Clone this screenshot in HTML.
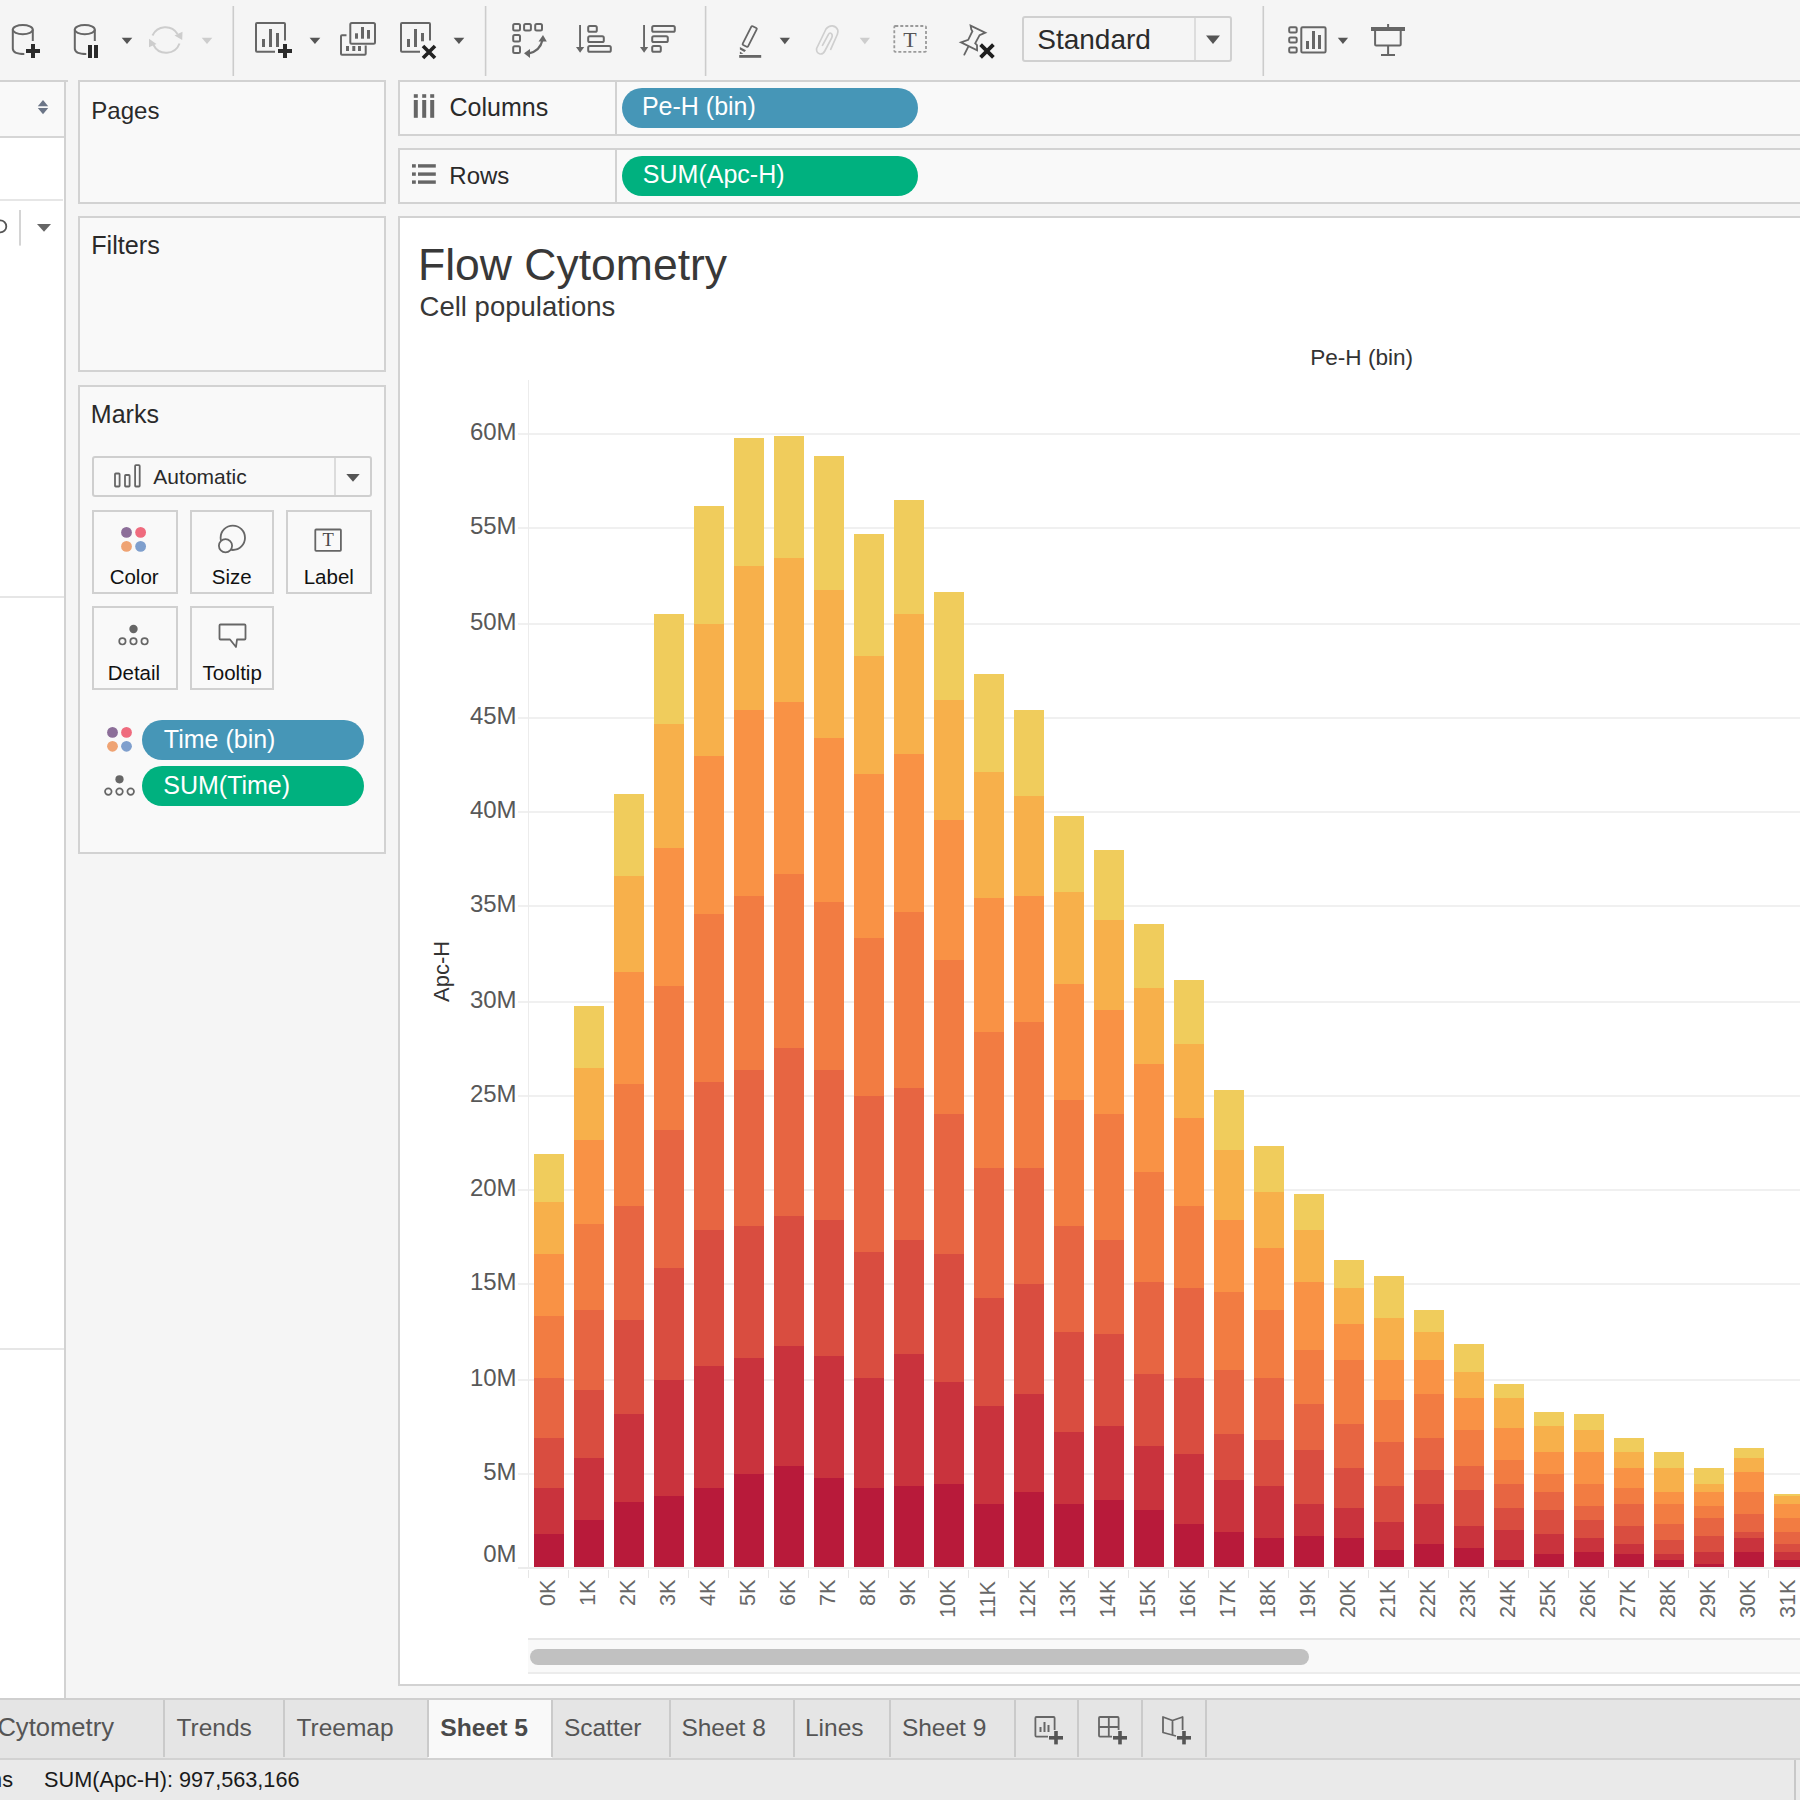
<!DOCTYPE html>
<html><head><meta charset="utf-8"><title>Flow Cytometry</title><style>
*{margin:0;padding:0;box-sizing:border-box}
html,body{width:1800px;height:1800px;overflow:hidden;background:#f5f5f5;font-family:"Liberation Sans", sans-serif}
.t{position:absolute;white-space:nowrap;line-height:1;font-family:"Liberation Sans", sans-serif}
.b{position:absolute}
svg{position:absolute;overflow:visible}
</style></head>
<body>
<svg style="left:0;top:0" width="1800" height="80"><ellipse cx="22.8" cy="29.6" rx="10" ry="4.6" fill="none" stroke="#666666" stroke-width="2"/><path d="M12.8 29.6 V48.5 Q12.8 54 24.3 54" fill="none" stroke="#666666" stroke-width="2"/><path d="M32.8 29.6 V41" fill="none" stroke="#666666" stroke-width="2"/><rect x="26" y="49" width="14" height="4" fill="#2b2b2b"/><rect x="31" y="44" width="4" height="14" fill="#2b2b2b"/><ellipse cx="84.8" cy="29.6" rx="10" ry="4.6" fill="none" stroke="#666666" stroke-width="2"/><path d="M74.8 29.6 V48.5 Q74.8 54 86.3 54" fill="none" stroke="#666666" stroke-width="2"/><path d="M94.8 29.6 V41" fill="none" stroke="#666666" stroke-width="2"/><rect x="88" y="45" width="4" height="13" fill="#2b2b2b"/><rect x="94" y="45" width="4" height="13" fill="#2b2b2b"/><polygon points="121.7,37.7 132.3,37.7 127.0,44" fill="#555"/><path d="M152.5 35.5 A14.2 14.2 0 0 1 177.5 34" fill="none" stroke="#cdcdcd" stroke-width="2"/><polygon points="174.5,35.5 182.5,31.8 182.2,40" fill="#cdcdcd"/><path d="M179.5 43.5 A14.2 14.2 0 0 1 153.5 45" fill="none" stroke="#cdcdcd" stroke-width="2"/><polygon points="149,38.8 149,47.3 156.5,44" fill="#cdcdcd"/><polygon points="201.7,37.7 212.3,37.7 207.0,44" fill="#cdcdcd"/><rect x="232.5" y="6" width="1.6" height="70" fill="#cccccc"/><rect x="484.8" y="6" width="1.6" height="70" fill="#cccccc"/><rect x="704.8" y="6" width="1.6" height="70" fill="#cccccc"/><rect x="1262.5" y="6" width="1.6" height="70" fill="#cccccc"/><path d="M275 51.7 H257 Q256 51.7 256 50.7 V24 Q256 23 257 23 H284 Q285 23 285 24 V40.5" fill="none" stroke="#666666" stroke-width="2"/><rect x="262" y="39" width="3" height="8" fill="#666666"/><rect x="269" y="29" width="3" height="18" fill="#666666"/><rect x="276" y="33" width="3" height="14" fill="#666666"/><rect x="278" y="49" width="14" height="4" fill="#2b2b2b"/><rect x="283" y="44" width="4" height="14" fill="#2b2b2b"/><polygon points="309.6,37.7 320.3,37.7 314.95000000000005,44" fill="#555"/><rect x="350.3" y="23" width="24.7" height="20.7" rx="1.5" fill="none" stroke="#666666" stroke-width="2"/><rect x="355" y="33.3" width="3" height="5.4" fill="#666666"/><rect x="361" y="27" width="3" height="11.7" fill="#666666"/><rect x="367" y="30" width="3" height="8.7" fill="#666666"/><path d="M346.5 35.3 H342 Q341 35.3 341 36.3 V53.7 Q341 54.7 342 54.7 H364.7 Q365.7 54.7 365.7 53.7 V45.5" fill="none" stroke="#666666" stroke-width="2"/><rect x="346" y="46" width="3" height="5" fill="#666666"/><rect x="352.3" y="46" width="3" height="5" fill="#666666"/><rect x="358" y="46" width="3" height="5" fill="#666666"/><path d="M420 51.7 H402 Q401 51.7 401 50.7 V24 Q401 23 402 23 H429 Q430 23 430 24 V40.5" fill="none" stroke="#666666" stroke-width="2"/><rect x="407" y="39" width="3" height="8" fill="#666666"/><rect x="414" y="29" width="3" height="18" fill="#666666"/><rect x="421" y="33" width="3" height="8.3" fill="#666666"/><path d="M423 46 L435 58 M435 46 L423 58" stroke="#222" stroke-width="3.6"/><polygon points="453.6,37.7 464.3,37.7 458.95000000000005,44" fill="#555"/><rect x="513.1999999999999" y="23.900000000000002" width="6.8" height="6.6" rx="1.5" fill="none" stroke="#666666" stroke-width="2"/><rect x="524.0999999999999" y="23.900000000000002" width="6.8" height="6.6" rx="1.5" fill="none" stroke="#666666" stroke-width="2"/><rect x="535.1999999999999" y="23.900000000000002" width="6.8" height="6.6" rx="1.5" fill="none" stroke="#666666" stroke-width="2"/><rect x="513.1999999999999" y="35.0" width="6.8" height="6.6" rx="1.5" fill="none" stroke="#666666" stroke-width="2"/><rect x="513.1999999999999" y="46.300000000000004" width="6.8" height="6.6" rx="1.5" fill="none" stroke="#666666" stroke-width="2"/><path d="M529 53.3 Q540 51 542.5 40" fill="none" stroke="#666666" stroke-width="2.2"/><polygon points="538.5,41.5 546.8,41.5 543,35" fill="#666666"/><polygon points="530,49 530,58 524,53.2" fill="#666666"/><rect x="579.1" y="25" width="1.9" height="24" fill="#666666"/><polygon points="576,47 584.2,47 580.1,52.8" fill="#666666"/><rect x="588.2" y="26" width="8.6" height="5.8" rx="1.6" fill="none" stroke="#666666" stroke-width="2"/><rect x="588.2" y="36.2" width="15.6" height="5.8" rx="1.6" fill="none" stroke="#666666" stroke-width="2"/><rect x="588.2" y="46" width="22.6" height="5.8" rx="1.6" fill="none" stroke="#666666" stroke-width="2"/><rect x="643.1" y="25" width="1.9" height="24" fill="#666666"/><polygon points="640,47 648.2,47 644.1,52.8" fill="#666666"/><rect x="652.2" y="26" width="22.6" height="5.8" rx="1.6" fill="none" stroke="#666666" stroke-width="2"/><rect x="652.2" y="36.2" width="15.6" height="5.8" rx="1.6" fill="none" stroke="#666666" stroke-width="2"/><rect x="652.2" y="46" width="8.6" height="5.8" rx="1.6" fill="none" stroke="#666666" stroke-width="2"/><g transform="translate(749.7 36.5) rotate(27)"><rect x="-3" y="-10.5" width="6" height="21" rx="1" fill="none" stroke="#666666" stroke-width="1.8"/></g><polygon points="739.9,47 746,50.3 744.4,52 739.9,49.6" fill="#666666"/><polygon points="739.9,51.4 743.3,53.8 739.9,53.9" fill="#666666"/><rect x="739.2" y="55" width="22" height="2.8" fill="#666666"/><polygon points="779.7,37.8 790,37.8 784.85,44.2" fill="#555"/><path d="M822.5 45.3 L828.3 34.6 Q830.2 31.5 832 34.5 Q832.6 36 831.7 37.8 L824.8 51 Q822.8 54.8 819.5 53.8 Q816 52.3 816.6 48.5 L826 29 Q828.5 25.5 832.5 25.8 Q836.5 26.5 837.8 30 Q838.3 32.5 837.3 34.5 L830.7 49.3" fill="none" stroke="#cfcfcf" stroke-width="1.7" stroke-linecap="round" stroke-linejoin="round"/><polygon points="859.7,37.8 870,37.8 864.85,44.2" fill="#cdcdcd"/><rect x="894.3" y="26" width="31.7" height="25.8" rx="1" fill="none" stroke="#9a9a9a" stroke-width="1.8" stroke-dasharray="3 2"/><text x="910" y="47.2" font-family="Liberation Serif" font-size="22" fill="#555" text-anchor="middle">T</text><path d="M970.6 25.6 L985.3 32.6 L979.6 35.1 L975.2 43.4 L977 45.2 L977.1 50.3 L961 42.3 L968.2 39.8 L972.4 31.2 L971.3 29.4 Z" fill="none" stroke="#666666" stroke-width="1.8" stroke-linejoin="miter"/><path d="M968.3 46.6 L964.3 54.6" stroke="#666666" stroke-width="1.8" stroke-linecap="round"/><path d="M980.6 44.6 L993.4 57.4 M993.4 44.6 L980.6 57.4" stroke="#1e1e1e" stroke-width="3.8"/><rect x="1289.2" y="27.25" width="7.5" height="5.2" rx="1.3" fill="none" stroke="#666666" stroke-width="2"/><rect x="1289.2" y="37.4" width="7.5" height="5.2" rx="1.3" fill="none" stroke="#666666" stroke-width="2"/><rect x="1289.2" y="47.4" width="7.5" height="5.2" rx="1.3" fill="none" stroke="#666666" stroke-width="2"/><rect x="1301.3" y="27.3" width="24.3" height="25.3" rx="1.3" fill="none" stroke="#666666" stroke-width="2"/><rect x="1306" y="41" width="3" height="8" fill="#666666"/><rect x="1312" y="31" width="3" height="18" fill="#666666"/><rect x="1318" y="35" width="3" height="14" fill="#666666"/><polygon points="1337.8,37.8 1348.1,37.8 1342.9499999999998,43.9" fill="#555"/><rect x="1371" y="27" width="34" height="4" fill="#666666"/><rect x="1387.1" y="24" width="2" height="4" fill="#666666"/><path d="M1375.1 30 V44.5 Q1375.1 45.5 1376.1 45.5 H1399.7 Q1400.7 45.5 1400.7 44.5 V30" fill="none" stroke="#666666" stroke-width="2"/><rect x="1387.1" y="46" width="2" height="8.5" fill="#666666"/><rect x="1381" y="54" width="14" height="2" fill="#666666"/></svg>
<div class="b" style="left:1022px;top:16px;width:210px;height:46px;border:2px solid #d0d0d0;border-radius:3px;background:#f5f5f5"></div>
<div class="b" style="left:1194px;top:18px;width:2px;height:42px;background:#dddddd"></div>
<svg style="left:0;top:0" width="1" height="1"><polygon points="1206,35.5 1220,35.5 1213.0,43.9" fill="#555"/></svg>
<div class="t" style="left:1037.23px;top:25.79px;font-size:28px;color:#2b2b2b;font-weight:normal;">Standard</div>
<div class="b" style="left:0px;top:80px;width:68px;height:2px;background:#d2d2d2"></div>
<div class="b" style="left:0px;top:82px;width:64px;height:55px;background:#f9f9f9"></div>
<div class="b" style="left:0px;top:136px;width:64px;height:2px;background:#d6d6d6"></div>
<div class="b" style="left:0px;top:138px;width:64px;height:1560px;background:#ffffff"></div>
<div class="b" style="left:64px;top:80px;width:2px;height:1618px;background:#d2d2d2"></div>
<div class="b" style="left:0px;top:199px;width:63px;height:2px;background:#e6e6e6"></div>
<div class="b" style="left:0px;top:596px;width:64px;height:2px;background:#e6e6e6"></div>
<div class="b" style="left:0px;top:1348px;width:64px;height:2px;background:#e6e6e6"></div>
<svg style="left:0;top:0" width="1" height="1"><polygon points="37.8,106.2 48.2,106.2 43,100" fill="#6b7587"/><polygon points="37.8,108 48.2,108 43,114.2" fill="#6b7587"/><circle cx="0.3" cy="226.4" r="6" fill="none" stroke="#555" stroke-width="1.8"/><rect x="19" y="210" width="2" height="35.6" fill="#d4d4d4"/><polygon points="37,224 51,224 44,231.8" fill="#666"/></svg>
<div class="b" style="left:78px;top:80px;width:308px;height:124px;border:2px solid #d2d2d2;background:#f9f9f9"></div>
<div class="t" style="left:91.33px;top:98.58px;font-size:24px;color:#2a2a2a;font-weight:normal;">Pages</div>
<div class="b" style="left:78px;top:216px;width:308px;height:156px;border:2px solid #d2d2d2;background:#f9f9f9"></div>
<div class="t" style="left:91.23px;top:233.06px;font-size:25.2px;color:#2a2a2a;font-weight:normal;">Filters</div>
<div class="b" style="left:78px;top:385px;width:308px;height:469px;border:2px solid #d2d2d2;background:#f9f9f9"></div>
<div class="t" style="left:90.85px;top:402.03px;font-size:25px;color:#2a2a2a;font-weight:normal;">Marks</div>
<div class="b" style="left:92px;top:456px;width:280px;height:41px;border:2px solid #cfcfcf;border-radius:3px;background:#f9f9f9"></div>
<div class="b" style="left:334px;top:458px;width:2px;height:37px;background:#dcdcdc"></div>
<svg style="left:0;top:0" width="1" height="1"><polygon points="346.3,474 359.7,474 353.0,481.8" fill="#555"/><rect x="115" y="473.5" width="4.6" height="13" rx="0.8" fill="none" stroke="#666666" stroke-width="1.8"/><rect x="125" y="475" width="4.6" height="11.5" rx="0.8" fill="none" stroke="#666666" stroke-width="1.8"/><rect x="135.1" y="465.2" width="4.6" height="21.3" rx="0.8" fill="none" stroke="#666666" stroke-width="1.8"/></svg>
<div class="t" style="left:153.36px;top:465.92px;font-size:21px;color:#2a2a2a;font-weight:normal;">Automatic</div>
<div class="b" style="left:92px;top:510px;width:86px;height:84px;border:2px solid #d0d0d0;background:#f9f9f9"></div><div class="t" style="left:109.66px;top:567.24px;font-size:20.5px;color:#111;font-weight:normal;">Color</div>
<div class="b" style="left:190px;top:510px;width:84px;height:84px;border:2px solid #d0d0d0;background:#f9f9f9"></div><div class="t" style="left:211.77px;top:567.44px;font-size:20.5px;color:#111;font-weight:normal;">Size</div>
<div class="b" style="left:286px;top:510px;width:86px;height:84px;border:2px solid #d0d0d0;background:#f9f9f9"></div><div class="t" style="left:303.72px;top:567.44px;font-size:20.5px;color:#111;font-weight:normal;">Label</div>
<div class="b" style="left:92px;top:606px;width:86px;height:84px;border:2px solid #d0d0d0;background:#f9f9f9"></div><div class="t" style="left:107.72px;top:663.24px;font-size:20.5px;color:#111;font-weight:normal;">Detail</div>
<div class="b" style="left:190px;top:606px;width:84px;height:84px;border:2px solid #d0d0d0;background:#f9f9f9"></div><div class="t" style="left:202.54px;top:662.84px;font-size:20.5px;color:#111;font-weight:normal;">Tooltip</div>
<svg style="left:0;top:0" width="1" height="1"><circle cx="126.5" cy="532.4" r="5.4" fill="#8c6e99"/><circle cx="140.6" cy="532.4" r="5.4" fill="#ef6b7e"/><circle cx="126.5" cy="546.4" r="5.4" fill="#efa373"/><circle cx="140.6" cy="546.4" r="5.4" fill="#7f9fcd"/><circle cx="232.8" cy="537.8" r="12.2" fill="none" stroke="#666666" stroke-width="1.8"/><circle cx="225.5" cy="545.7" r="6.6" fill="#f9f9f9" stroke="#666666" stroke-width="1.8"/><rect x="315.3" y="529.5" width="25.6" height="21.3" rx="0.8" fill="none" stroke="#666666" stroke-width="1.8"/><text x="328.1" y="546.2" font-family="Liberation Serif" font-size="18.5" fill="#4a4a4a" text-anchor="middle">T</text><circle cx="133.5" cy="629" r="4.2" fill="#666666"/><circle cx="122.4" cy="641.3" r="3.2" fill="none" stroke="#666666" stroke-width="1.7"/><circle cx="133.5" cy="641.3" r="3.2" fill="none" stroke="#666666" stroke-width="1.7"/><circle cx="144.6" cy="641.3" r="3.2" fill="none" stroke="#666666" stroke-width="1.7"/><path d="M220.5 624.5 H244.5 Q245.5 624.5 245.5 625.5 V638.5 Q245.5 639.5 244.5 639.5 H237 L236 647 L230 639.5 H220.5 Q219.5 639.5 219.5 638.5 V625.5 Q219.5 624.5 220.5 624.5 Z" fill="none" stroke="#666666" stroke-width="1.8" stroke-linejoin="round"/></svg>
<div class="b" style="left:142px;top:720px;width:222px;height:40px;background:#4696b7;border-radius:20px"></div>
<div class="t" style="left:163.84px;top:726.63px;font-size:25px;color:#ffffff;font-weight:normal;">Time (bin)</div>
<div class="b" style="left:142px;top:766px;width:222px;height:40px;background:#00b17f;border-radius:20px"></div>
<div class="t" style="left:163.26px;top:772.83px;font-size:25px;color:#ffffff;font-weight:normal;">SUM(Time)</div>
<svg style="left:0;top:0" width="1" height="1"><circle cx="112.5" cy="732.4" r="5.4" fill="#8c6e99"/><circle cx="126.5" cy="732.4" r="5.4" fill="#ef6b7e"/><circle cx="112.5" cy="746.3" r="5.4" fill="#efa373"/><circle cx="126.5" cy="746.3" r="5.4" fill="#7f9fcd"/><circle cx="119.5" cy="779.3" r="4.1" fill="#666666"/><circle cx="108.3" cy="791.6" r="3.3" fill="none" stroke="#666666" stroke-width="1.7"/><circle cx="119.5" cy="791.6" r="3.3" fill="none" stroke="#666666" stroke-width="1.7"/><circle cx="130.7" cy="791.6" r="3.3" fill="none" stroke="#666666" stroke-width="1.7"/></svg>
<div class="b" style="left:398px;top:80px;width:1410px;height:56px;border:2px solid #d2d2d2;background:#f9f9f9"></div>
<div class="b" style="left:615px;top:82px;width:2px;height:52px;background:#d2d2d2"></div>
<div class="b" style="left:398px;top:148px;width:1410px;height:56px;border:2px solid #d2d2d2;background:#f9f9f9"></div>
<div class="b" style="left:615px;top:150px;width:2px;height:52px;background:#d2d2d2"></div>
<svg style="left:0;top:0" width="1" height="1"><rect x="413.8" y="94.2" width="4" height="3.6" fill="#666666"/><rect x="413.8" y="100" width="4" height="17.8" fill="#666666"/><rect x="422.2" y="94.2" width="4" height="3.6" fill="#666666"/><rect x="422.2" y="100" width="4" height="17.8" fill="#666666"/><rect x="430.2" y="94.2" width="4" height="3.6" fill="#666666"/><rect x="430.2" y="100" width="4" height="17.8" fill="#666666"/><rect x="412" y="164.2" width="3.8" height="3.4" fill="#666666"/><rect x="418" y="164.2" width="17.8" height="3.4" fill="#666666"/><rect x="412" y="172.4" width="3.8" height="3.4" fill="#666666"/><rect x="418" y="172.4" width="17.8" height="3.4" fill="#666666"/><rect x="412" y="180.4" width="3.8" height="3.4" fill="#666666"/><rect x="418" y="180.4" width="17.8" height="3.4" fill="#666666"/></svg>
<div class="t" style="left:449.53px;top:94.63px;font-size:25px;color:#2a2a2a;font-weight:normal;">Columns</div>
<div class="t" style="left:449.33px;top:163.88px;font-size:24px;color:#2a2a2a;font-weight:normal;">Rows</div>
<div class="b" style="left:622px;top:88px;width:296px;height:40px;background:#4696b7;border-radius:20px"></div>
<div class="t" style="left:641.95px;top:94.43px;font-size:25px;color:#ffffff;font-weight:normal;">Pe-H (bin)</div>
<div class="b" style="left:622px;top:156px;width:296px;height:40px;background:#00b17f;border-radius:20px"></div>
<div class="t" style="left:642.86px;top:162.43px;font-size:25px;color:#ffffff;font-weight:normal;">SUM(Apc-H)</div>
<div class="b" style="left:398px;top:216px;width:1410px;height:1470px;border:2px solid #d2d2d2;background:#ffffff"></div>
<div class="t" style="left:418.05px;top:243.02px;font-size:44.5px;color:#383838;font-weight:normal;">Flow Cytometry</div>
<div class="t" style="left:419.60px;top:292.72px;font-size:27.5px;color:#383838;font-weight:normal;">Cell populations</div>
<div class="t" style="left:1310.15px;top:346.86px;font-size:22.6px;color:#333333;font-weight:normal;">Pe-H (bin)</div>
<div class="t" style="left:431.07px;top:1002.42px;font-size:22px;color:#333333;transform-origin:0 0;transform:rotate(-90deg)">Apc-H</div>
<div class="b" style="left:518px;top:433px;width:1290px;height:2px;background:#f0f0f0"></div>
<div class="t" style="left:469.91px;top:419.88px;font-size:24px;color:#585858">60M</div>
<div class="b" style="left:518px;top:527px;width:1290px;height:2px;background:#f0f0f0"></div>
<div class="t" style="left:469.91px;top:513.88px;font-size:24px;color:#585858">55M</div>
<div class="b" style="left:518px;top:623px;width:1290px;height:2px;background:#f0f0f0"></div>
<div class="t" style="left:469.91px;top:609.88px;font-size:24px;color:#585858">50M</div>
<div class="b" style="left:518px;top:717px;width:1290px;height:2px;background:#f0f0f0"></div>
<div class="t" style="left:469.91px;top:703.88px;font-size:24px;color:#585858">45M</div>
<div class="b" style="left:518px;top:811px;width:1290px;height:2px;background:#f0f0f0"></div>
<div class="t" style="left:469.91px;top:797.88px;font-size:24px;color:#585858">40M</div>
<div class="b" style="left:518px;top:905px;width:1290px;height:2px;background:#f0f0f0"></div>
<div class="t" style="left:469.91px;top:891.88px;font-size:24px;color:#585858">35M</div>
<div class="b" style="left:518px;top:1001px;width:1290px;height:2px;background:#f0f0f0"></div>
<div class="t" style="left:469.91px;top:987.88px;font-size:24px;color:#585858">30M</div>
<div class="b" style="left:518px;top:1095px;width:1290px;height:2px;background:#f0f0f0"></div>
<div class="t" style="left:469.91px;top:1081.88px;font-size:24px;color:#585858">25M</div>
<div class="b" style="left:518px;top:1189px;width:1290px;height:2px;background:#f0f0f0"></div>
<div class="t" style="left:469.91px;top:1175.88px;font-size:24px;color:#585858">20M</div>
<div class="b" style="left:518px;top:1283px;width:1290px;height:2px;background:#f0f0f0"></div>
<div class="t" style="left:469.91px;top:1269.88px;font-size:24px;color:#585858">15M</div>
<div class="b" style="left:518px;top:1379px;width:1290px;height:2px;background:#f0f0f0"></div>
<div class="t" style="left:469.91px;top:1365.88px;font-size:24px;color:#585858">10M</div>
<div class="b" style="left:518px;top:1473px;width:1290px;height:2px;background:#f0f0f0"></div>
<div class="t" style="left:483.26px;top:1459.88px;font-size:24px;color:#585858">5M</div>
<div class="b" style="left:518px;top:1567px;width:1290px;height:2px;background:#ececec"></div>
<div class="t" style="left:483.26px;top:1542.08px;font-size:24px;color:#585858">0M</div>
<div class="b" style="left:528px;top:380px;width:1.2px;height:1188px;background:#ececec"></div>
<svg style="left:0;top:0" width="1800" height="1800" shape-rendering="crispEdges"><rect x="534" y="1154" width="30" height="48" fill="#f0cc5c"/><rect x="534" y="1202" width="30" height="52" fill="#f7b04b"/><rect x="534" y="1254" width="30" height="62" fill="#f99245"/><rect x="534" y="1316" width="30" height="62" fill="#f27c42"/><rect x="534" y="1378" width="30" height="60" fill="#e76542"/><rect x="534" y="1438" width="30" height="50" fill="#d94d40"/><rect x="534" y="1488" width="30" height="46" fill="#c9333d"/><rect x="534" y="1534" width="30" height="33" fill="#b81a3a"/><rect x="574" y="1006" width="30" height="62" fill="#f0cc5c"/><rect x="574" y="1068" width="30" height="72" fill="#f7b04b"/><rect x="574" y="1140" width="30" height="84" fill="#f99245"/><rect x="574" y="1224" width="30" height="86" fill="#f27c42"/><rect x="574" y="1310" width="30" height="80" fill="#e76542"/><rect x="574" y="1390" width="30" height="68" fill="#d94d40"/><rect x="574" y="1458" width="30" height="62" fill="#c9333d"/><rect x="574" y="1520" width="30" height="47" fill="#b81a3a"/><rect x="614" y="794" width="30" height="82" fill="#f0cc5c"/><rect x="614" y="876" width="30" height="96" fill="#f7b04b"/><rect x="614" y="972" width="30" height="112" fill="#f99245"/><rect x="614" y="1084" width="30" height="122" fill="#f27c42"/><rect x="614" y="1206" width="30" height="114" fill="#e76542"/><rect x="614" y="1320" width="30" height="94" fill="#d94d40"/><rect x="614" y="1414" width="30" height="88" fill="#c9333d"/><rect x="614" y="1502" width="30" height="65" fill="#b81a3a"/><rect x="654" y="614" width="30" height="110" fill="#f0cc5c"/><rect x="654" y="724" width="30" height="124" fill="#f7b04b"/><rect x="654" y="848" width="30" height="138" fill="#f99245"/><rect x="654" y="986" width="30" height="144" fill="#f27c42"/><rect x="654" y="1130" width="30" height="138" fill="#e76542"/><rect x="654" y="1268" width="30" height="112" fill="#d94d40"/><rect x="654" y="1380" width="30" height="116" fill="#c9333d"/><rect x="654" y="1496" width="30" height="71" fill="#b81a3a"/><rect x="694" y="506" width="30" height="118" fill="#f0cc5c"/><rect x="694" y="624" width="30" height="132" fill="#f7b04b"/><rect x="694" y="756" width="30" height="158" fill="#f99245"/><rect x="694" y="914" width="30" height="168" fill="#f27c42"/><rect x="694" y="1082" width="30" height="148" fill="#e76542"/><rect x="694" y="1230" width="30" height="136" fill="#d94d40"/><rect x="694" y="1366" width="30" height="122" fill="#c9333d"/><rect x="694" y="1488" width="30" height="79" fill="#b81a3a"/><rect x="734" y="438" width="30" height="128" fill="#f0cc5c"/><rect x="734" y="566" width="30" height="144" fill="#f7b04b"/><rect x="734" y="710" width="30" height="186" fill="#f99245"/><rect x="734" y="896" width="30" height="174" fill="#f27c42"/><rect x="734" y="1070" width="30" height="156" fill="#e76542"/><rect x="734" y="1226" width="30" height="132" fill="#d94d40"/><rect x="734" y="1358" width="30" height="116" fill="#c9333d"/><rect x="734" y="1474" width="30" height="93" fill="#b81a3a"/><rect x="774" y="436" width="30" height="122" fill="#f0cc5c"/><rect x="774" y="558" width="30" height="144" fill="#f7b04b"/><rect x="774" y="702" width="30" height="172" fill="#f99245"/><rect x="774" y="874" width="30" height="174" fill="#f27c42"/><rect x="774" y="1048" width="30" height="168" fill="#e76542"/><rect x="774" y="1216" width="30" height="130" fill="#d94d40"/><rect x="774" y="1346" width="30" height="120" fill="#c9333d"/><rect x="774" y="1466" width="30" height="101" fill="#b81a3a"/><rect x="814" y="456" width="30" height="134" fill="#f0cc5c"/><rect x="814" y="590" width="30" height="148" fill="#f7b04b"/><rect x="814" y="738" width="30" height="164" fill="#f99245"/><rect x="814" y="902" width="30" height="168" fill="#f27c42"/><rect x="814" y="1070" width="30" height="150" fill="#e76542"/><rect x="814" y="1220" width="30" height="136" fill="#d94d40"/><rect x="814" y="1356" width="30" height="122" fill="#c9333d"/><rect x="814" y="1478" width="30" height="89" fill="#b81a3a"/><rect x="854" y="534" width="30" height="122" fill="#f0cc5c"/><rect x="854" y="656" width="30" height="118" fill="#f7b04b"/><rect x="854" y="774" width="30" height="164" fill="#f99245"/><rect x="854" y="938" width="30" height="158" fill="#f27c42"/><rect x="854" y="1096" width="30" height="156" fill="#e76542"/><rect x="854" y="1252" width="30" height="126" fill="#d94d40"/><rect x="854" y="1378" width="30" height="110" fill="#c9333d"/><rect x="854" y="1488" width="30" height="79" fill="#b81a3a"/><rect x="894" y="500" width="30" height="114" fill="#f0cc5c"/><rect x="894" y="614" width="30" height="140" fill="#f7b04b"/><rect x="894" y="754" width="30" height="158" fill="#f99245"/><rect x="894" y="912" width="30" height="176" fill="#f27c42"/><rect x="894" y="1088" width="30" height="152" fill="#e76542"/><rect x="894" y="1240" width="30" height="114" fill="#d94d40"/><rect x="894" y="1354" width="30" height="132" fill="#c9333d"/><rect x="894" y="1486" width="30" height="81" fill="#b81a3a"/><rect x="934" y="592" width="30" height="108" fill="#f0cc5c"/><rect x="934" y="700" width="30" height="120" fill="#f7b04b"/><rect x="934" y="820" width="30" height="140" fill="#f99245"/><rect x="934" y="960" width="30" height="154" fill="#f27c42"/><rect x="934" y="1114" width="30" height="140" fill="#e76542"/><rect x="934" y="1254" width="30" height="128" fill="#d94d40"/><rect x="934" y="1382" width="30" height="102" fill="#c9333d"/><rect x="934" y="1484" width="30" height="83" fill="#b81a3a"/><rect x="974" y="674" width="30" height="98" fill="#f0cc5c"/><rect x="974" y="772" width="30" height="126" fill="#f7b04b"/><rect x="974" y="898" width="30" height="134" fill="#f99245"/><rect x="974" y="1032" width="30" height="136" fill="#f27c42"/><rect x="974" y="1168" width="30" height="130" fill="#e76542"/><rect x="974" y="1298" width="30" height="108" fill="#d94d40"/><rect x="974" y="1406" width="30" height="98" fill="#c9333d"/><rect x="974" y="1504" width="30" height="63" fill="#b81a3a"/><rect x="1014" y="710" width="30" height="86" fill="#f0cc5c"/><rect x="1014" y="796" width="30" height="100" fill="#f7b04b"/><rect x="1014" y="896" width="30" height="126" fill="#f99245"/><rect x="1014" y="1022" width="30" height="146" fill="#f27c42"/><rect x="1014" y="1168" width="30" height="116" fill="#e76542"/><rect x="1014" y="1284" width="30" height="110" fill="#d94d40"/><rect x="1014" y="1394" width="30" height="98" fill="#c9333d"/><rect x="1014" y="1492" width="30" height="75" fill="#b81a3a"/><rect x="1054" y="816" width="30" height="76" fill="#f0cc5c"/><rect x="1054" y="892" width="30" height="92" fill="#f7b04b"/><rect x="1054" y="984" width="30" height="116" fill="#f99245"/><rect x="1054" y="1100" width="30" height="126" fill="#f27c42"/><rect x="1054" y="1226" width="30" height="106" fill="#e76542"/><rect x="1054" y="1332" width="30" height="100" fill="#d94d40"/><rect x="1054" y="1432" width="30" height="72" fill="#c9333d"/><rect x="1054" y="1504" width="30" height="63" fill="#b81a3a"/><rect x="1094" y="850" width="30" height="70" fill="#f0cc5c"/><rect x="1094" y="920" width="30" height="90" fill="#f7b04b"/><rect x="1094" y="1010" width="30" height="104" fill="#f99245"/><rect x="1094" y="1114" width="30" height="126" fill="#f27c42"/><rect x="1094" y="1240" width="30" height="94" fill="#e76542"/><rect x="1094" y="1334" width="30" height="92" fill="#d94d40"/><rect x="1094" y="1426" width="30" height="74" fill="#c9333d"/><rect x="1094" y="1500" width="30" height="67" fill="#b81a3a"/><rect x="1134" y="924" width="30" height="64" fill="#f0cc5c"/><rect x="1134" y="988" width="30" height="76" fill="#f7b04b"/><rect x="1134" y="1064" width="30" height="108" fill="#f99245"/><rect x="1134" y="1172" width="30" height="110" fill="#f27c42"/><rect x="1134" y="1282" width="30" height="92" fill="#e76542"/><rect x="1134" y="1374" width="30" height="72" fill="#d94d40"/><rect x="1134" y="1446" width="30" height="64" fill="#c9333d"/><rect x="1134" y="1510" width="30" height="57" fill="#b81a3a"/><rect x="1174" y="980" width="30" height="64" fill="#f0cc5c"/><rect x="1174" y="1044" width="30" height="74" fill="#f7b04b"/><rect x="1174" y="1118" width="30" height="88" fill="#f99245"/><rect x="1174" y="1206" width="30" height="82" fill="#f27c42"/><rect x="1174" y="1288" width="30" height="90" fill="#e76542"/><rect x="1174" y="1378" width="30" height="76" fill="#d94d40"/><rect x="1174" y="1454" width="30" height="70" fill="#c9333d"/><rect x="1174" y="1524" width="30" height="43" fill="#b81a3a"/><rect x="1214" y="1090" width="30" height="60" fill="#f0cc5c"/><rect x="1214" y="1150" width="30" height="70" fill="#f7b04b"/><rect x="1214" y="1220" width="30" height="72" fill="#f99245"/><rect x="1214" y="1292" width="30" height="78" fill="#f27c42"/><rect x="1214" y="1370" width="30" height="64" fill="#e76542"/><rect x="1214" y="1434" width="30" height="46" fill="#d94d40"/><rect x="1214" y="1480" width="30" height="52" fill="#c9333d"/><rect x="1214" y="1532" width="30" height="35" fill="#b81a3a"/><rect x="1254" y="1146" width="30" height="46" fill="#f0cc5c"/><rect x="1254" y="1192" width="30" height="56" fill="#f7b04b"/><rect x="1254" y="1248" width="30" height="62" fill="#f99245"/><rect x="1254" y="1310" width="30" height="68" fill="#f27c42"/><rect x="1254" y="1378" width="30" height="62" fill="#e76542"/><rect x="1254" y="1440" width="30" height="46" fill="#d94d40"/><rect x="1254" y="1486" width="30" height="52" fill="#c9333d"/><rect x="1254" y="1538" width="30" height="29" fill="#b81a3a"/><rect x="1294" y="1194" width="30" height="36" fill="#f0cc5c"/><rect x="1294" y="1230" width="30" height="52" fill="#f7b04b"/><rect x="1294" y="1282" width="30" height="68" fill="#f99245"/><rect x="1294" y="1350" width="30" height="54" fill="#f27c42"/><rect x="1294" y="1404" width="30" height="46" fill="#e76542"/><rect x="1294" y="1450" width="30" height="54" fill="#d94d40"/><rect x="1294" y="1504" width="30" height="32" fill="#c9333d"/><rect x="1294" y="1536" width="30" height="31" fill="#b81a3a"/><rect x="1334" y="1260" width="30" height="28" fill="#f0cc5c"/><rect x="1334" y="1288" width="30" height="36" fill="#f7b04b"/><rect x="1334" y="1324" width="30" height="36" fill="#f99245"/><rect x="1334" y="1360" width="30" height="64" fill="#f27c42"/><rect x="1334" y="1424" width="30" height="44" fill="#e76542"/><rect x="1334" y="1468" width="30" height="40" fill="#d94d40"/><rect x="1334" y="1508" width="30" height="30" fill="#c9333d"/><rect x="1334" y="1538" width="30" height="29" fill="#b81a3a"/><rect x="1374" y="1276" width="30" height="42" fill="#f0cc5c"/><rect x="1374" y="1318" width="30" height="42" fill="#f7b04b"/><rect x="1374" y="1360" width="30" height="40" fill="#f99245"/><rect x="1374" y="1400" width="30" height="42" fill="#f27c42"/><rect x="1374" y="1442" width="30" height="44" fill="#e76542"/><rect x="1374" y="1486" width="30" height="36" fill="#d94d40"/><rect x="1374" y="1522" width="30" height="28" fill="#c9333d"/><rect x="1374" y="1550" width="30" height="17" fill="#b81a3a"/><rect x="1414" y="1310" width="30" height="22" fill="#f0cc5c"/><rect x="1414" y="1332" width="30" height="28" fill="#f7b04b"/><rect x="1414" y="1360" width="30" height="34" fill="#f99245"/><rect x="1414" y="1394" width="30" height="44" fill="#f27c42"/><rect x="1414" y="1438" width="30" height="32" fill="#e76542"/><rect x="1414" y="1470" width="30" height="34" fill="#d94d40"/><rect x="1414" y="1504" width="30" height="40" fill="#c9333d"/><rect x="1414" y="1544" width="30" height="23" fill="#b81a3a"/><rect x="1454" y="1344" width="30" height="28" fill="#f0cc5c"/><rect x="1454" y="1372" width="30" height="26" fill="#f7b04b"/><rect x="1454" y="1398" width="30" height="32" fill="#f99245"/><rect x="1454" y="1430" width="30" height="36" fill="#f27c42"/><rect x="1454" y="1466" width="30" height="24" fill="#e76542"/><rect x="1454" y="1490" width="30" height="36" fill="#d94d40"/><rect x="1454" y="1526" width="30" height="22" fill="#c9333d"/><rect x="1454" y="1548" width="30" height="19" fill="#b81a3a"/><rect x="1494" y="1384" width="30" height="14" fill="#f0cc5c"/><rect x="1494" y="1398" width="30" height="30" fill="#f7b04b"/><rect x="1494" y="1428" width="30" height="32" fill="#f99245"/><rect x="1494" y="1460" width="30" height="24" fill="#f27c42"/><rect x="1494" y="1484" width="30" height="24" fill="#e76542"/><rect x="1494" y="1508" width="30" height="22" fill="#d94d40"/><rect x="1494" y="1530" width="30" height="30" fill="#c9333d"/><rect x="1494" y="1560" width="30" height="7" fill="#b81a3a"/><rect x="1534" y="1412" width="30" height="14" fill="#f0cc5c"/><rect x="1534" y="1426" width="30" height="26" fill="#f7b04b"/><rect x="1534" y="1452" width="30" height="22" fill="#f99245"/><rect x="1534" y="1474" width="30" height="18" fill="#f27c42"/><rect x="1534" y="1492" width="30" height="18" fill="#e76542"/><rect x="1534" y="1510" width="30" height="24" fill="#d94d40"/><rect x="1534" y="1534" width="30" height="20" fill="#c9333d"/><rect x="1534" y="1554" width="30" height="13" fill="#b81a3a"/><rect x="1574" y="1414" width="30" height="16" fill="#f0cc5c"/><rect x="1574" y="1430" width="30" height="22" fill="#f7b04b"/><rect x="1574" y="1452" width="30" height="32" fill="#f99245"/><rect x="1574" y="1484" width="30" height="22" fill="#f27c42"/><rect x="1574" y="1506" width="30" height="14" fill="#e76542"/><rect x="1574" y="1520" width="30" height="18" fill="#d94d40"/><rect x="1574" y="1538" width="30" height="14" fill="#c9333d"/><rect x="1574" y="1552" width="30" height="15" fill="#b81a3a"/><rect x="1614" y="1438" width="30" height="14" fill="#f0cc5c"/><rect x="1614" y="1452" width="30" height="16" fill="#f7b04b"/><rect x="1614" y="1468" width="30" height="20" fill="#f99245"/><rect x="1614" y="1488" width="30" height="16" fill="#f27c42"/><rect x="1614" y="1504" width="30" height="22" fill="#e76542"/><rect x="1614" y="1526" width="30" height="18" fill="#d94d40"/><rect x="1614" y="1544" width="30" height="10" fill="#c9333d"/><rect x="1614" y="1554" width="30" height="13" fill="#b81a3a"/><rect x="1654" y="1452" width="30" height="16" fill="#f0cc5c"/><rect x="1654" y="1468" width="30" height="24" fill="#f7b04b"/><rect x="1654" y="1492" width="30" height="12" fill="#f99245"/><rect x="1654" y="1504" width="30" height="20" fill="#f27c42"/><rect x="1654" y="1524" width="30" height="16" fill="#e76542"/><rect x="1654" y="1540" width="30" height="14" fill="#d94d40"/><rect x="1654" y="1554" width="30" height="6" fill="#c9333d"/><rect x="1654" y="1560" width="30" height="7" fill="#b81a3a"/><rect x="1694" y="1468" width="30" height="16" fill="#f0cc5c"/><rect x="1694" y="1484" width="30" height="8" fill="#f7b04b"/><rect x="1694" y="1492" width="30" height="14" fill="#f99245"/><rect x="1694" y="1506" width="30" height="12" fill="#f27c42"/><rect x="1694" y="1518" width="30" height="18" fill="#e76542"/><rect x="1694" y="1536" width="30" height="16" fill="#d94d40"/><rect x="1694" y="1552" width="30" height="12" fill="#c9333d"/><rect x="1694" y="1564" width="30" height="3" fill="#b81a3a"/><rect x="1734" y="1448" width="30" height="10" fill="#f0cc5c"/><rect x="1734" y="1458" width="30" height="14" fill="#f7b04b"/><rect x="1734" y="1472" width="30" height="20" fill="#f99245"/><rect x="1734" y="1492" width="30" height="22" fill="#f27c42"/><rect x="1734" y="1514" width="30" height="18" fill="#e76542"/><rect x="1734" y="1532" width="30" height="6" fill="#d94d40"/><rect x="1734" y="1538" width="30" height="14" fill="#c9333d"/><rect x="1734" y="1552" width="30" height="15" fill="#b81a3a"/><rect x="1774" y="1494" width="30" height="2" fill="#f0cc5c"/><rect x="1774" y="1496" width="30" height="8" fill="#f7b04b"/><rect x="1774" y="1504" width="30" height="14" fill="#f99245"/><rect x="1774" y="1518" width="30" height="14" fill="#f27c42"/><rect x="1774" y="1532" width="30" height="12" fill="#e76542"/><rect x="1774" y="1544" width="30" height="8" fill="#d94d40"/><rect x="1774" y="1552" width="30" height="8" fill="#c9333d"/><rect x="1774" y="1560" width="30" height="7" fill="#b81a3a"/></svg>
<div class="b" style="left:528px;top:1570px;width:1.2px;height:8px;background:#e6e6e6"></div>
<div class="b" style="left:568px;top:1570px;width:1.2px;height:8px;background:#e6e6e6"></div>
<div class="b" style="left:608px;top:1570px;width:1.2px;height:8px;background:#e6e6e6"></div>
<div class="b" style="left:648px;top:1570px;width:1.2px;height:8px;background:#e6e6e6"></div>
<div class="b" style="left:688px;top:1570px;width:1.2px;height:8px;background:#e6e6e6"></div>
<div class="b" style="left:728px;top:1570px;width:1.2px;height:8px;background:#e6e6e6"></div>
<div class="b" style="left:768px;top:1570px;width:1.2px;height:8px;background:#e6e6e6"></div>
<div class="b" style="left:808px;top:1570px;width:1.2px;height:8px;background:#e6e6e6"></div>
<div class="b" style="left:848px;top:1570px;width:1.2px;height:8px;background:#e6e6e6"></div>
<div class="b" style="left:888px;top:1570px;width:1.2px;height:8px;background:#e6e6e6"></div>
<div class="b" style="left:928px;top:1570px;width:1.2px;height:8px;background:#e6e6e6"></div>
<div class="b" style="left:968px;top:1570px;width:1.2px;height:8px;background:#e6e6e6"></div>
<div class="b" style="left:1008px;top:1570px;width:1.2px;height:8px;background:#e6e6e6"></div>
<div class="b" style="left:1048px;top:1570px;width:1.2px;height:8px;background:#e6e6e6"></div>
<div class="b" style="left:1088px;top:1570px;width:1.2px;height:8px;background:#e6e6e6"></div>
<div class="b" style="left:1128px;top:1570px;width:1.2px;height:8px;background:#e6e6e6"></div>
<div class="b" style="left:1168px;top:1570px;width:1.2px;height:8px;background:#e6e6e6"></div>
<div class="b" style="left:1208px;top:1570px;width:1.2px;height:8px;background:#e6e6e6"></div>
<div class="b" style="left:1248px;top:1570px;width:1.2px;height:8px;background:#e6e6e6"></div>
<div class="b" style="left:1288px;top:1570px;width:1.2px;height:8px;background:#e6e6e6"></div>
<div class="b" style="left:1328px;top:1570px;width:1.2px;height:8px;background:#e6e6e6"></div>
<div class="b" style="left:1368px;top:1570px;width:1.2px;height:8px;background:#e6e6e6"></div>
<div class="b" style="left:1408px;top:1570px;width:1.2px;height:8px;background:#e6e6e6"></div>
<div class="b" style="left:1448px;top:1570px;width:1.2px;height:8px;background:#e6e6e6"></div>
<div class="b" style="left:1488px;top:1570px;width:1.2px;height:8px;background:#e6e6e6"></div>
<div class="b" style="left:1528px;top:1570px;width:1.2px;height:8px;background:#e6e6e6"></div>
<div class="b" style="left:1568px;top:1570px;width:1.2px;height:8px;background:#e6e6e6"></div>
<div class="b" style="left:1608px;top:1570px;width:1.2px;height:8px;background:#e6e6e6"></div>
<div class="b" style="left:1648px;top:1570px;width:1.2px;height:8px;background:#e6e6e6"></div>
<div class="b" style="left:1688px;top:1570px;width:1.2px;height:8px;background:#e6e6e6"></div>
<div class="b" style="left:1728px;top:1570px;width:1.2px;height:8px;background:#e6e6e6"></div>
<div class="b" style="left:1768px;top:1570px;width:1.2px;height:8px;background:#e6e6e6"></div>
<div class="b" style="left:1808px;top:1570px;width:1.2px;height:8px;background:#e6e6e6"></div>
<div class="t" style="left:536.51px;top:1605.82px;font-size:21.6px;color:#686868;transform-origin:0 0;transform:rotate(-90deg)">0K</div>
<div class="t" style="left:576.51px;top:1605.82px;font-size:21.6px;color:#686868;transform-origin:0 0;transform:rotate(-90deg)">1K</div>
<div class="t" style="left:616.51px;top:1605.82px;font-size:21.6px;color:#686868;transform-origin:0 0;transform:rotate(-90deg)">2K</div>
<div class="t" style="left:656.51px;top:1605.82px;font-size:21.6px;color:#686868;transform-origin:0 0;transform:rotate(-90deg)">3K</div>
<div class="t" style="left:696.51px;top:1605.82px;font-size:21.6px;color:#686868;transform-origin:0 0;transform:rotate(-90deg)">4K</div>
<div class="t" style="left:736.51px;top:1605.82px;font-size:21.6px;color:#686868;transform-origin:0 0;transform:rotate(-90deg)">5K</div>
<div class="t" style="left:776.51px;top:1605.82px;font-size:21.6px;color:#686868;transform-origin:0 0;transform:rotate(-90deg)">6K</div>
<div class="t" style="left:816.51px;top:1605.82px;font-size:21.6px;color:#686868;transform-origin:0 0;transform:rotate(-90deg)">7K</div>
<div class="t" style="left:856.51px;top:1605.82px;font-size:21.6px;color:#686868;transform-origin:0 0;transform:rotate(-90deg)">8K</div>
<div class="t" style="left:896.51px;top:1605.82px;font-size:21.6px;color:#686868;transform-origin:0 0;transform:rotate(-90deg)">9K</div>
<div class="t" style="left:936.51px;top:1617.83px;font-size:21.6px;color:#686868;transform-origin:0 0;transform:rotate(-90deg)">10K</div>
<div class="t" style="left:976.51px;top:1617.83px;font-size:21.6px;color:#686868;transform-origin:0 0;transform:rotate(-90deg)">11K</div>
<div class="t" style="left:1016.51px;top:1617.83px;font-size:21.6px;color:#686868;transform-origin:0 0;transform:rotate(-90deg)">12K</div>
<div class="t" style="left:1056.51px;top:1617.83px;font-size:21.6px;color:#686868;transform-origin:0 0;transform:rotate(-90deg)">13K</div>
<div class="t" style="left:1096.51px;top:1617.83px;font-size:21.6px;color:#686868;transform-origin:0 0;transform:rotate(-90deg)">14K</div>
<div class="t" style="left:1136.51px;top:1617.83px;font-size:21.6px;color:#686868;transform-origin:0 0;transform:rotate(-90deg)">15K</div>
<div class="t" style="left:1176.51px;top:1617.83px;font-size:21.6px;color:#686868;transform-origin:0 0;transform:rotate(-90deg)">16K</div>
<div class="t" style="left:1216.51px;top:1617.83px;font-size:21.6px;color:#686868;transform-origin:0 0;transform:rotate(-90deg)">17K</div>
<div class="t" style="left:1256.51px;top:1617.83px;font-size:21.6px;color:#686868;transform-origin:0 0;transform:rotate(-90deg)">18K</div>
<div class="t" style="left:1296.51px;top:1617.83px;font-size:21.6px;color:#686868;transform-origin:0 0;transform:rotate(-90deg)">19K</div>
<div class="t" style="left:1336.51px;top:1617.83px;font-size:21.6px;color:#686868;transform-origin:0 0;transform:rotate(-90deg)">20K</div>
<div class="t" style="left:1376.51px;top:1617.83px;font-size:21.6px;color:#686868;transform-origin:0 0;transform:rotate(-90deg)">21K</div>
<div class="t" style="left:1416.51px;top:1617.83px;font-size:21.6px;color:#686868;transform-origin:0 0;transform:rotate(-90deg)">22K</div>
<div class="t" style="left:1456.51px;top:1617.83px;font-size:21.6px;color:#686868;transform-origin:0 0;transform:rotate(-90deg)">23K</div>
<div class="t" style="left:1496.51px;top:1617.83px;font-size:21.6px;color:#686868;transform-origin:0 0;transform:rotate(-90deg)">24K</div>
<div class="t" style="left:1536.51px;top:1617.83px;font-size:21.6px;color:#686868;transform-origin:0 0;transform:rotate(-90deg)">25K</div>
<div class="t" style="left:1576.51px;top:1617.83px;font-size:21.6px;color:#686868;transform-origin:0 0;transform:rotate(-90deg)">26K</div>
<div class="t" style="left:1616.51px;top:1617.83px;font-size:21.6px;color:#686868;transform-origin:0 0;transform:rotate(-90deg)">27K</div>
<div class="t" style="left:1656.51px;top:1617.83px;font-size:21.6px;color:#686868;transform-origin:0 0;transform:rotate(-90deg)">28K</div>
<div class="t" style="left:1696.51px;top:1617.83px;font-size:21.6px;color:#686868;transform-origin:0 0;transform:rotate(-90deg)">29K</div>
<div class="t" style="left:1736.51px;top:1617.83px;font-size:21.6px;color:#686868;transform-origin:0 0;transform:rotate(-90deg)">30K</div>
<div class="t" style="left:1776.51px;top:1617.83px;font-size:21.6px;color:#686868;transform-origin:0 0;transform:rotate(-90deg)">31K</div>
<div class="b" style="left:528px;top:1638px;width:1280px;height:36px;background:#f9f9f9;border-top:2px solid #e6e6e6;border-bottom:2px solid #ececec"></div>
<div class="b" style="left:530px;top:1649px;width:779px;height:16px;background:#c1c1c1;border-radius:8px"></div>
<div class="b" style="left:0px;top:1698px;width:1800px;height:2px;background:#cfcfcf"></div>
<div class="b" style="left:0px;top:1700px;width:1800px;height:58px;background:#e5e5e5"></div>
<div class="b" style="left:0px;top:1758px;width:1800px;height:2px;background:#d2d2d2"></div>
<div class="b" style="left:428px;top:1700px;width:124px;height:58px;background:#f9f9f9"></div>
<div class="b" style="left:163px;top:1700px;width:2px;height:57px;background:#cacaca"></div>
<div class="b" style="left:283px;top:1700px;width:2px;height:57px;background:#cacaca"></div>
<div class="b" style="left:427px;top:1700px;width:2px;height:57px;background:#cacaca"></div>
<div class="b" style="left:551px;top:1700px;width:2px;height:57px;background:#cacaca"></div>
<div class="b" style="left:669px;top:1700px;width:2px;height:57px;background:#cacaca"></div>
<div class="b" style="left:793px;top:1700px;width:2px;height:57px;background:#cacaca"></div>
<div class="b" style="left:889px;top:1700px;width:2px;height:57px;background:#cacaca"></div>
<div class="b" style="left:1014px;top:1700px;width:2px;height:57px;background:#cacaca"></div>
<div class="b" style="left:1077px;top:1700px;width:2px;height:57px;background:#cacaca"></div>
<div class="b" style="left:1141px;top:1700px;width:2px;height:57px;background:#cacaca"></div>
<div class="b" style="left:1205px;top:1700px;width:2px;height:57px;background:#cacaca"></div>
<div class="t" style="left:-2.64px;top:1715.12px;font-size:25.6px;color:#555555">Cytometry</div>
<div class="t" style="left:176.45px;top:1716.06px;font-size:24.5px;color:#555555;font-weight:normal;">Trends</div>
<div class="t" style="left:296.45px;top:1716.06px;font-size:24.5px;color:#555555;font-weight:normal;">Treemap</div>
<div class="t" style="left:440.29px;top:1715.89px;font-size:24.7px;color:#4a4a4a;font-weight:bold;">Sheet 5</div>
<div class="t" style="left:563.89px;top:1716.06px;font-size:24.5px;color:#555555;font-weight:normal;">Scatter</div>
<div class="t" style="left:681.39px;top:1716.06px;font-size:24.5px;color:#555555;font-weight:normal;">Sheet 8</div>
<div class="t" style="left:804.99px;top:1716.06px;font-size:24.5px;color:#555555;font-weight:normal;">Lines</div>
<div class="t" style="left:901.89px;top:1716.06px;font-size:24.5px;color:#555555;font-weight:normal;">Sheet 9</div>
<svg style="left:0;top:0" width="1" height="1"><path d="M1048 1736.6 H1036.4 Q1035.4 1736.6 1035.4 1735.6 V1718 Q1035.4 1717 1036.4 1717 H1053.6 Q1054.6 1717 1054.6 1718 V1730" fill="none" stroke="#666666" stroke-width="1.8"/><rect x="1039.5" y="1727" width="2" height="5" fill="#666666"/><rect x="1043.5" y="1722" width="2" height="10" fill="#666666"/><rect x="1047.5" y="1725" width="2" height="7" fill="#666666"/><rect x="1049" y="1736" width="14" height="3.6" fill="#555"/><rect x="1054.2" y="1731" width="3.6" height="13.4" fill="#555"/><path d="M1112 1736.6 H1100 Q1099 1736.6 1099 1735.6 V1718 Q1099 1717 1100 1717 H1117.6 Q1118.6 1717 1118.6 1718 V1730 M1099 1727 H1118.6 M1108.8 1717 V1736.6" fill="none" stroke="#666666" stroke-width="1.8"/><rect x="1113" y="1736" width="14" height="3.6" fill="#555"/><rect x="1118.2" y="1731" width="3.6" height="13.4" fill="#555"/><path d="M1176 1736 L1163 1732.5 V1717 L1172.5 1720.5 L1182.6 1717 V1730 M1172.5 1720.5 V1735" fill="none" stroke="#666666" stroke-width="1.8" stroke-linejoin="round"/><rect x="1177" y="1736" width="14" height="3.6" fill="#555"/><rect x="1182.2" y="1731" width="3.6" height="13.4" fill="#555"/></svg>
<div class="b" style="left:0px;top:1760px;width:1800px;height:40px;background:#eaeaea"></div>
<div class="b" style="left:1794px;top:1760px;width:2px;height:40px;background:#c8c8c8"></div>
<div class="t" style="left:-9.92px;top:1768.63px;font-size:21.7px;color:#1a1a1a">ns</div>
<div class="t" style="left:44.01px;top:1768.63px;font-size:21.7px;color:#1a1a1a;font-weight:normal;">SUM(Apc-H): 997,563,166</div>
</body></html>
